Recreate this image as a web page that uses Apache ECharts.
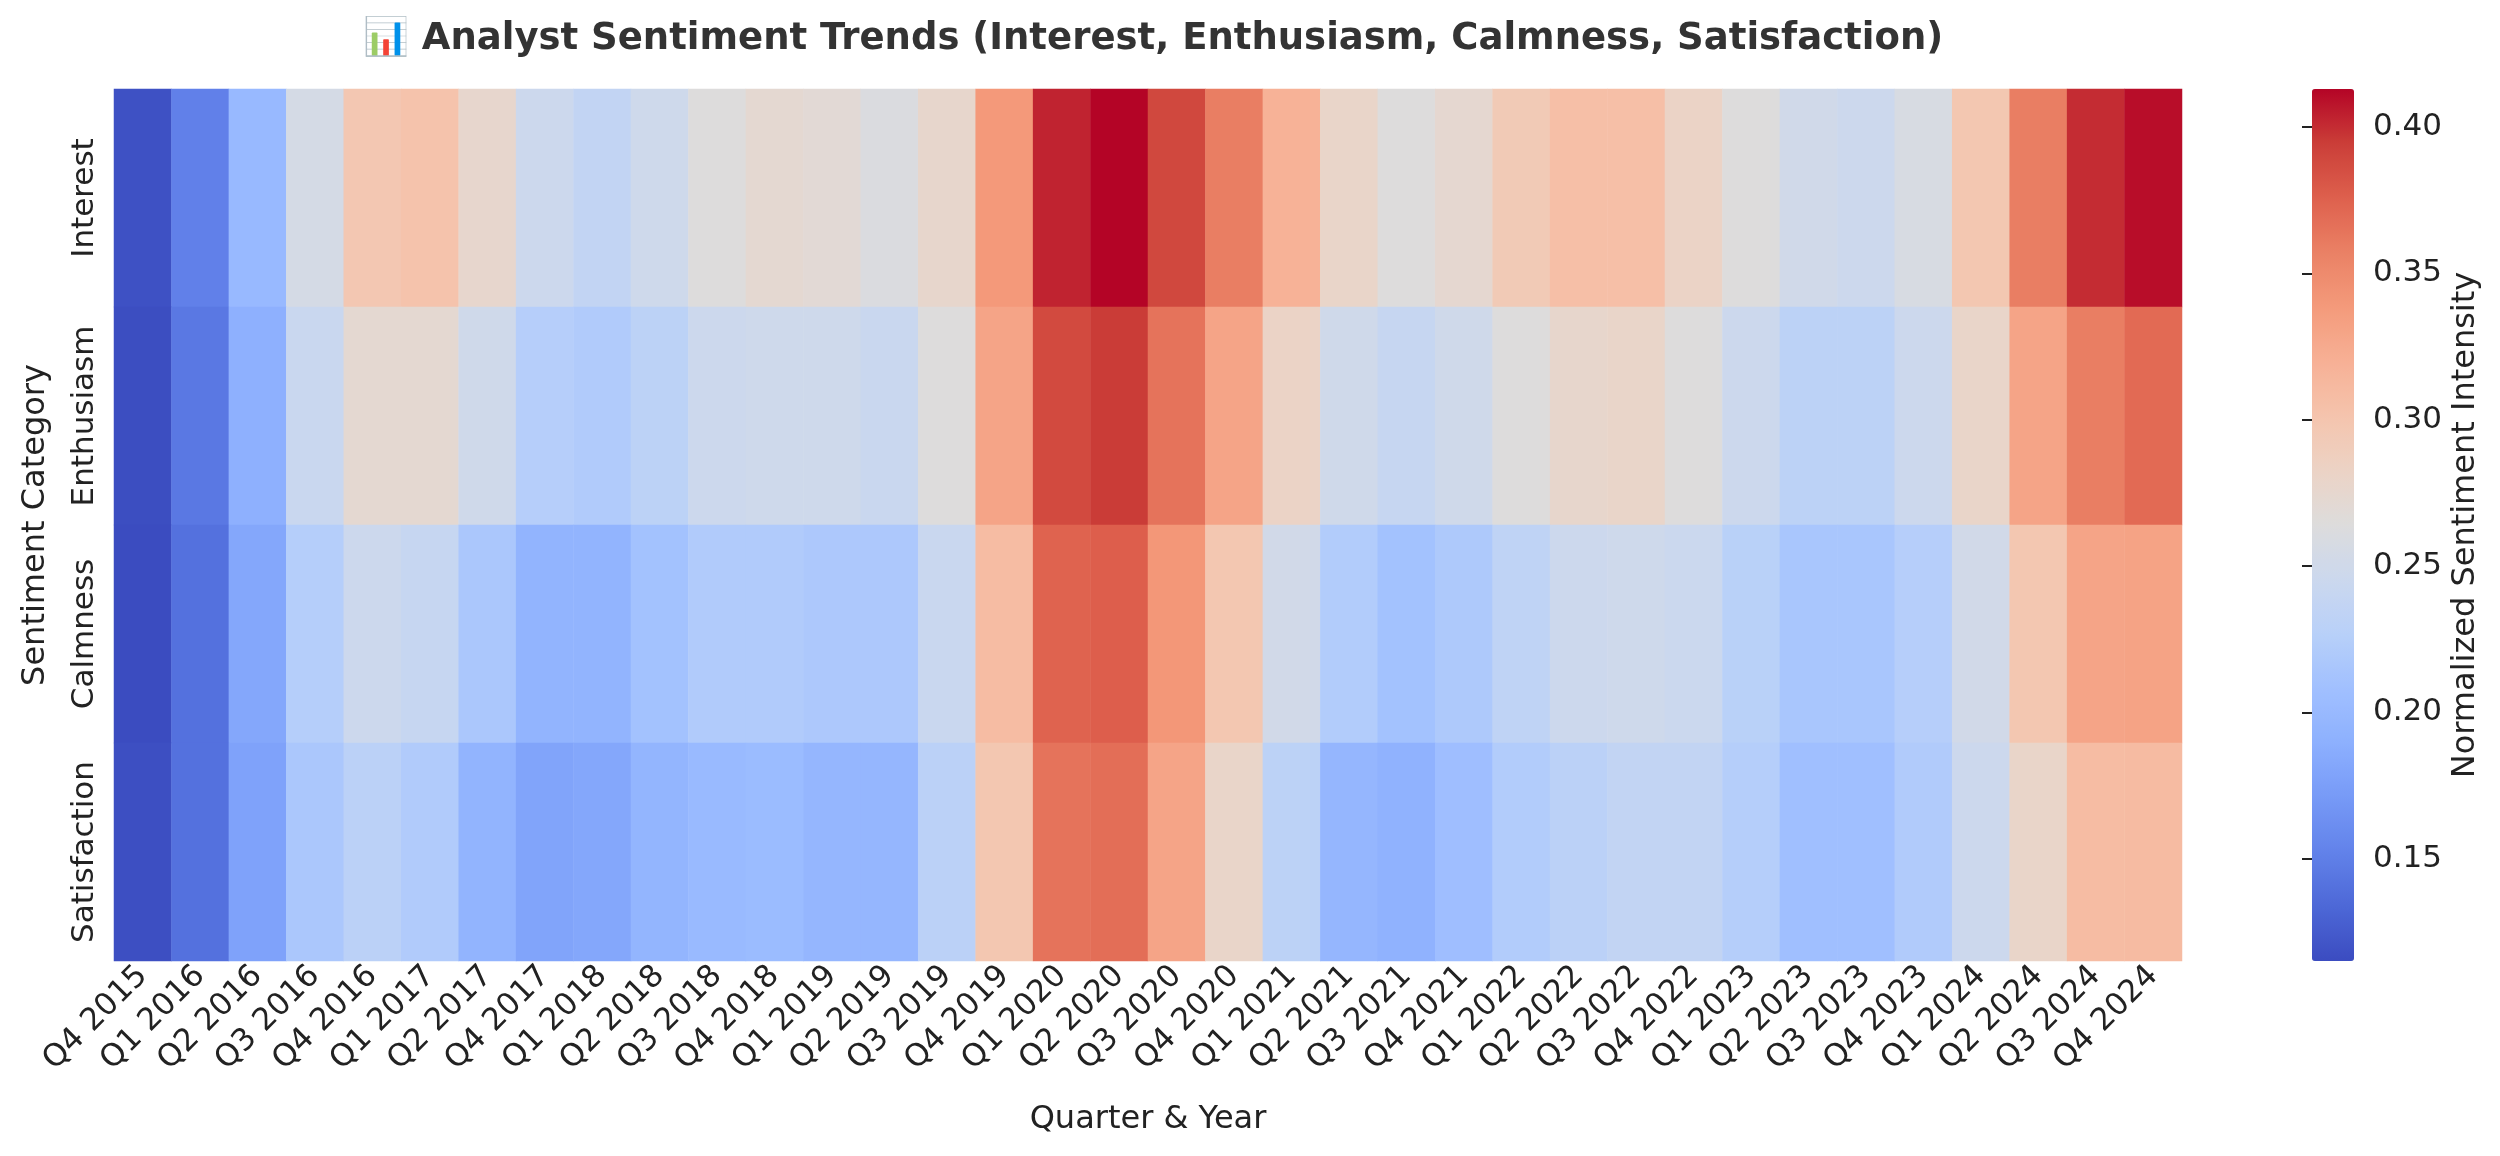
<!DOCTYPE html>
<html>
<head>
<meta charset="utf-8">
<script src="https://cdn.jsdelivr.net/npm/echarts@6/dist/echarts.min.js"></script>
<style>
html,body{margin:0;padding:0;background:#fff;}
#chart{width:2500px;height:1156px;}
</style>
</head>
<body>
<div id="chart"></div>
<script>
const quarters = ["Q4 2015","Q1 2016","Q2 2016","Q3 2016","Q4 2016","Q1 2017","Q2 2017","Q4 2017","Q1 2018","Q2 2018","Q3 2018","Q4 2018","Q1 2019","Q2 2019","Q3 2019","Q4 2019","Q1 2020","Q2 2020","Q3 2020","Q4 2020","Q1 2021","Q2 2021","Q3 2021","Q4 2021","Q1 2022","Q2 2022","Q3 2022","Q4 2022","Q1 2023","Q2 2023","Q3 2023","Q4 2023","Q1 2024","Q2 2024","Q3 2024","Q4 2024"];
const categories = ["Interest","Enthusiasm","Calmness","Satisfaction"];
const interest = [0.118,0.151,0.200,0.255,0.297,0.302,0.276,0.246,0.237,0.248,0.264,0.273,0.270,0.261,0.277,0.339,0.403,0.413,0.389,0.359,0.318,0.279,0.264,0.274,0.294,0.306,0.306,0.282,0.264,0.251,0.246,0.258,0.298,0.359,0.400,0.410];
const enthusiasm = [0.116,0.145,0.190,0.243,0.273,0.273,0.249,0.225,0.221,0.231,0.246,0.248,0.248,0.243,0.264,0.330,0.388,0.395,0.365,0.330,0.282,0.249,0.240,0.249,0.264,0.277,0.279,0.264,0.246,0.231,0.231,0.246,0.279,0.330,0.359,0.370];
const calmness = [0.115,0.140,0.182,0.224,0.246,0.240,0.216,0.194,0.194,0.210,0.221,0.221,0.218,0.218,0.243,0.309,0.374,0.377,0.341,0.298,0.252,0.222,0.210,0.219,0.234,0.246,0.248,0.245,0.228,0.215,0.215,0.225,0.252,0.298,0.330,0.331];
const satisfaction = [0.117,0.140,0.178,0.216,0.230,0.221,0.194,0.179,0.182,0.195,0.201,0.203,0.197,0.197,0.230,0.298,0.365,0.368,0.330,0.279,0.231,0.197,0.192,0.206,0.222,0.230,0.237,0.237,0.224,0.207,0.207,0.221,0.246,0.279,0.309,0.310];
const colorbarTicks = [0.15,0.20,0.25,0.30,0.35,0.40];
const vMin = 0.115, vMax = 0.413;

const rows = [interest, enthusiasm, calmness, satisfaction];
const data = [];
rows.forEach((r, yi) => r.forEach((v, xi) => data.push([xi, yi, v])));

const coolwarm = ['#3b4cc0','#4d68d7','#6282ea','#779af7','#8db0fe','#a1c0ff','#b8d0f9','#cbd8ee','#dddcdc','#ecd3c5','#f5c4ad','#f7b095','#f49a7b','#ea8165','#de604d','#cb3e38','#b40426'];
const FONT = '"DejaVu Sans", sans-serif';
const chart = echarts.init(document.getElementById('chart'), null, {renderer:'canvas'});
chart.setOption({
  backgroundColor:'#fff',
  animation:false,
  title:{
    text:'📊 Analyst Sentiment Trends (Interest, Enthusiasm, Calmness, Satisfaction)',
    left:1148, top:16, textAlign:'center',
    textStyle:{fontFamily:FONT, fontWeight:'bold', fontSize:37, color:'#333'}
  },
  grid:[
    {left:114, top:89, width:2068, height:872},
    {left:2312, top:89, width:42, height:872}
  ],
  xAxis:[
    {type:'category', gridIndex:0, data:quarters,
     name:'Quarter & Year', nameLocation:'middle', nameGap:143,
     nameTextStyle:{fontFamily:FONT, fontSize:32, color:'#222'},
     axisLine:{show:false}, splitLine:{show:false},
     axisTick:{show:true, inside:true, length:9, alignWithLabel:true, lineStyle:{color:'#222', width:2}},
     axisLabel:{interval:0, rotate:45, margin:10, fontFamily:FONT, fontSize:31, color:'#222'}},
    {type:'value', gridIndex:1, min:0, max:1, show:false}
  ],
  yAxis:[
    {type:'category', gridIndex:0, data:categories, inverse:true,
     name:'Sentiment Category', nameLocation:'middle', nameGap:62, nameRotate:90,
     nameTextStyle:{fontFamily:FONT, fontSize:32, color:'#222'},
     axisLine:{show:false}, splitLine:{show:false},
     axisTick:{show:true, inside:true, length:9, alignWithLabel:true, lineStyle:{color:'#222', width:2}},
     axisLabel:{interval:0, rotate:90, margin:14, fontFamily:FONT, fontSize:31, color:'#222'}},
    {type:'value', gridIndex:1, min:vMin, max:vMax, position:'right', z:10,
     name:'Normalized Sentiment Intensity', nameLocation:'middle', nameGap:96, nameRotate:90,
     nameTextStyle:{fontFamily:FONT, fontSize:32, color:'#222'},
     axisLine:{show:false}, splitLine:{show:false},
     axisTick:{show:true, inside:true, length:10, customValues:colorbarTicks, lineStyle:{color:'#222', width:2}},
     axisLabel:{show:true, margin:19, customValues:colorbarTicks, fontFamily:FONT, fontSize:31, color:'#222',
       formatter:(v)=>Number(v).toFixed(2)}}
  ],
  visualMap:{
    type:'continuous', min:vMin, max:vMax, seriesIndex:0,
    calculable:false, realtime:false, hoverLink:false,
    orient:'vertical', left:2312, top:89, padding:0, z:2,
    itemWidth:42, itemHeight:872, text:null, showLabel:false,
    inRange:{color:coolwarm}
  },
  series:[
    {type:'heatmap', xAxisIndex:0, yAxisIndex:0, data:data,
     itemStyle:{borderWidth:0}, emphasis:{disabled:true}, label:{show:false}, z:1}
  ]
});
</script>
</body>
</html>
